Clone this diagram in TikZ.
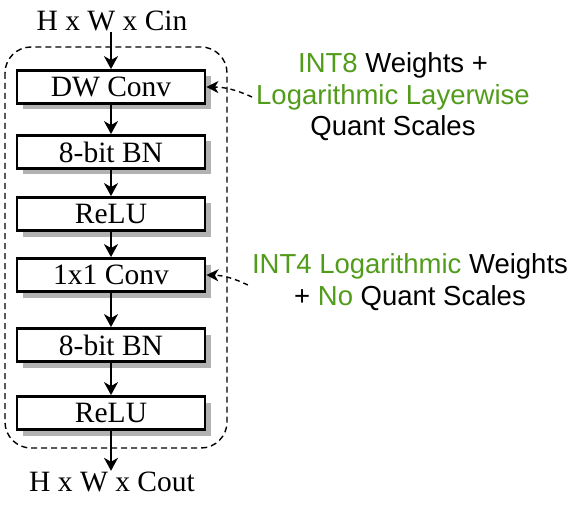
\documentclass[tikz,border=0pt]{standalone}
\usepackage{fontspec}
\setmainfont{Liberation Serif}
\newfontfamily\labelsans{Liberation Sans}
\usetikzlibrary{arrows.meta,shadows}
\definecolor{qgreen}{RGB}{82,156,28}
\begin{document}
\begin{tikzpicture}[x=1pt,y=-1pt,
  layerbox/.style={draw=black, line width=2.8pt, fill=white, minimum width=188pt, minimum height=33pt, inner sep=0pt,
    font=\fontsize{29.5}{33}\selectfont,
    drop shadow={shadow xshift=6pt, shadow yshift=-6pt, fill=black!30, opacity=1}},
  flow/.style={line width=2pt, -{Stealth[length=13pt,width=14pt,inset=4pt]}},
  note/.style={align=center, font=\labelsans\fontsize{27.5}{31.5}\selectfont, inner sep=0pt},
  hint/.style={line width=1.4pt, dash pattern=on 5pt off 4pt, -{Stealth[length=12pt,width=12pt,inset=3.5pt]}},
  dim/.style={font=\fontsize{29.5}{33}\selectfont, inner sep=1pt}]
\useasboundingbox (0,0) rectangle (578,505);
\draw[line width=1.4pt, dash pattern=on 6pt off 4pt, rounded corners=26pt] (5,47) rectangle (227,448);
\node[dim] (in) at (112,21) {H x W x Cin};
\node[layerbox] (dw) at (111,87) {DW Conv};
\node[layerbox] (bn1) at (111,152) {8-bit BN};
\node[layerbox] (re1) at (111,214) {ReLU};
\node[layerbox] (pw) at (111,275) {1x1 Conv};
\node[layerbox] (bn2) at (111,345) {8-bit BN};
\node[layerbox] (re2) at (111,413) {ReLU};
\node[dim] (out) at (112,482) {H x W x Cout};
\draw[flow] (in.south -| dw.north) -- (dw.north);
\draw[flow] (dw) -- (bn1);
\draw[flow] (bn1) -- (re1);
\draw[flow] (re1) -- (pw);
\draw[flow] (pw) -- (bn2);
\draw[flow] (bn2) -- (re2);
\draw[flow] (re2.south) -- (out.north -| re2.south);
\node[note] (t1) at (393,97) {\textcolor{qgreen}{INT8} Weights +\\\textcolor{qgreen}{Logarithmic Layerwise}\\Quant Scales};
\node[note] (t2) at (410,282) {\textcolor{qgreen}{INT4 Logarithmic} Weights\\+ \textcolor{qgreen}{No} Quant Scales};
\draw[hint] ([xshift=-4pt]t1.west) to[bend right=12] (dw.east);
\draw[hint] ([xshift=-4pt,yshift=-3pt]t2.west) to[bend right=12] (pw.east);
\end{tikzpicture}
\end{document}
